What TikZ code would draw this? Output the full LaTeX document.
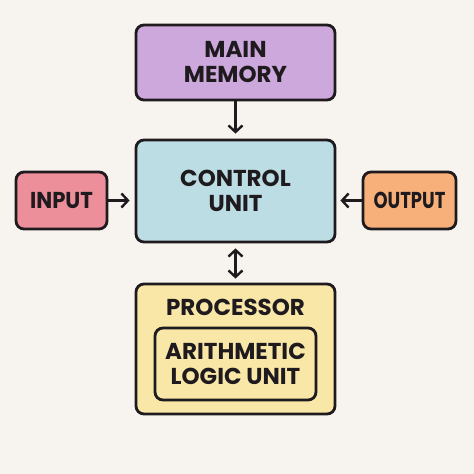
\documentclass[tikz,border=0pt]{standalone}
\usepackage{fontspec}
\usepackage{graphicx}
\setmainfont{Poppins}
\usetikzlibrary{arrows.meta}
\definecolor{bg}{HTML}{F7F4EF}
\definecolor{ink}{HTML}{1E1A1E}
\definecolor{memc}{HTML}{CDA8DC}
\definecolor{cuc}{HTML}{BCDDE3}
\definecolor{inc}{HTML}{EC8F9A}
\definecolor{outc}{HTML}{F7B07A}
\definecolor{procc}{HTML}{F9E7A8}
\begin{document}
\begin{tikzpicture}[x=1pt,y=-1pt,
  box/.style={draw=ink, line width=2.8pt, rounded corners=8pt, align=center,
    font=\bfseries\fontsize{23}{25}\selectfont, text=ink, inner sep=0pt},
  lbl/.style={align=center, font=\bfseries\fontsize{23}{25}\selectfont, text=ink, inner sep=0pt},
  conn/.style={draw=ink, line width=2.4pt, -{Straight Barb[length=6.5pt,width=14pt]}},
  dconn/.style={draw=ink, line width=2.4pt, {Straight Barb[length=6.5pt,width=14pt]}-{Straight Barb[length=6.5pt,width=14pt]}}]
\fill[bg] (0,0) rectangle (474,474);
\useasboundingbox (0,0) rectangle (474,474);
\node[box, fill=memc, minimum width=199pt, minimum height=75pt] (mem) at (235.5,62.5) {MAIN\\MEMORY};
\node[box, fill=cuc, minimum width=199pt, minimum height=102pt] (cu) at (235.5,191) {CONTROL\\UNIT};
\node[box, fill=inc, minimum width=91pt, minimum height=57pt] (in) at (61.5,200.5) {\scalebox{0.92}[1]{INPUT}};
\node[box, fill=outc, minimum width=93pt, minimum height=57pt] (out) at (409.5,200.5) {\scalebox{0.78}[1]{OUTPUT}};
\node[box, fill=procc, minimum width=199pt, minimum height=130pt] (proc) at (235.5,349) {};
\node[lbl] (proclbl) at (235.5,307) {PROCESSOR};
\node[box, fill=procc, minimum width=161pt, minimum height=72pt] (alu) at (235.5,364) {ARITHMETIC\\LOGIC UNIT};
\draw[conn, shorten >=5pt] (mem.south) -- (cu.north);
\draw[conn, shorten >=5pt] (in.east) -- (in.east -| cu.west);
\draw[conn, shorten >=4pt] (out.west) -- (out.west -| cu.east);
\draw[dconn, shorten <=5pt, shorten >=4pt] (cu.south) -- (proc.north);
\end{tikzpicture}
\end{document}
